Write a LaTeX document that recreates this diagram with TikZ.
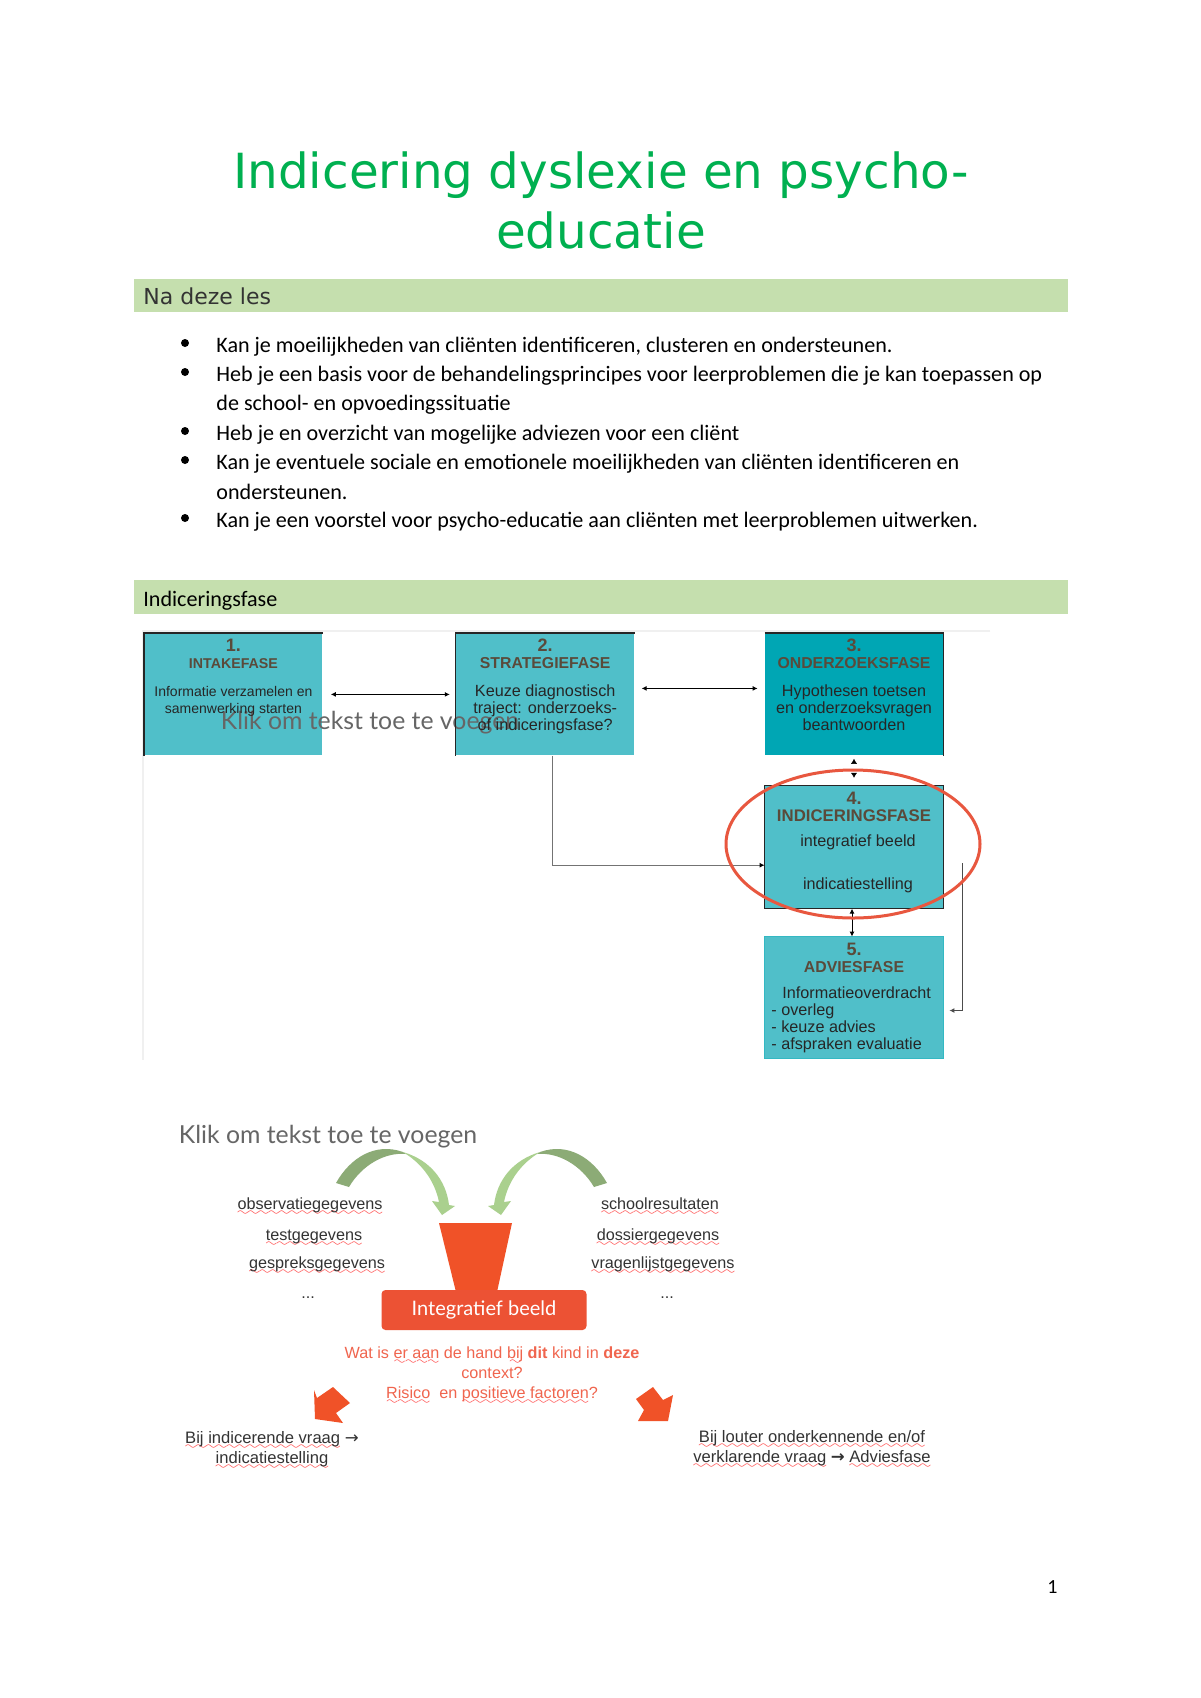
\documentclass[tikz,border=0pt]{standalone}
\usepackage{fontspec}
\usepackage{xcolor}
\usepackage{tikz}
\usetikzlibrary{arrows.meta, positioning}
\setmainfont{Carlito}
\newfontfamily\dejavu{DejaVu Sans}
\newfontfamily\arialfont{Liberation Sans}
\newfontfamily\latofont{Lato}
\definecolor{titlegreen}{HTML}{00B050}
\definecolor{bandgreen}{HTML}{C5DFAE}
\definecolor{tealbox}{HTML}{50BFC9}
\definecolor{tealdark}{HTML}{00A6B4}
\definecolor{phasebrown}{HTML}{5A4A3A}
\definecolor{circlered}{HTML}{E8573F}
\definecolor{funnelred}{HTML}{F05228}
\definecolor{beeldred}{HTML}{EC5234}
\definecolor{questred}{HTML}{F0654E}
\definecolor{curvedark}{HTML}{8CAB76}
\definecolor{curvelight}{HTML}{AAD08E}
\font\wavefont=lasy6
\newcommand\spell[1]{\leavevmode\setbox0\hbox{#1}\rlap{\lower3pt\hbox to\wd0{\color{red!75}\xleaders\hbox{\wavefont\char58}\hfil}}\box0\relax}
\newcommand\phasehead[3][7.9]{{\fontsize{9}{8.5}\selectfont\bfseries\textcolor{phasebrown}{#2}}\\{\bfseries\fontsize{#1}{8.5}\selectfont\textcolor{phasebrown}{#3}}}
\begin{document}
\begin{tikzpicture}[
                x=0.5pt, y=-0.5pt,
                node distance=15pt,
                band/.style={fill=bandgreen, draw=none},
                bullettext/.style={anchor=west, inner sep=0pt, font=\fontsize{11.05}{13}\selectfont},
                box/.style={fill=tealbox, draw=none, minimum width=89pt, minimum height=61pt, inner sep=0pt},
                boxline/.style={draw=black!85, line width=0.6pt},
                phasetext/.style={anchor=north, align=center, inner sep=0pt, text=black!85, font=\arialfont\fontsize{8.1}{8.5}\selectfont},
                arrow/.style={{Latex[length=2.5pt,width=2.5pt]}-{Latex[length=2.5pt,width=2.5pt]}, line width=0.5pt},
                oneway/.style={-{Latex[length=2.5pt,width=2.5pt]}, line width=0.5pt},
                grey/.style={-{Latex[length=2.5pt,width=2.5pt,black]}, draw=black!55, line width=0.5pt},
                smalltip/.style={{Latex[length=2.5pt,width=3pt,black]}-{Latex[length=2.5pt,width=3pt,black]}, draw=white, line width=0.2pt},
                word/.style={inner sep=0pt, align=center, text=black!80, font=\arialfont\fontsize{8.1}{10}\selectfont},
                klik/.style={inner sep=0pt, text=black!60, font=\latofont\fontsize{12.4}{14}\selectfont}
            ]
                \useasboundingbox (0,0) rectangle (1200,1698);
                \fill[white] (0,0) rectangle (1200,1698);

                % koptekst
                \node[align=center, text=titlegreen, font=\dejavu\fontsize{24.2}{30}\selectfont] (title) at (601,200) {Indicering dyslexie en psycho-\\educatie};
                \path[band] (134,279) rectangle (1068,312);
                \node[anchor=west, inner sep=0pt, font=\dejavu\fontsize{11}{12}\selectfont, text=black!80] (les) at (143,296) {Na deze les};

                % doelen
                \foreach \ypos in {345,374,433,462,520}
                    \fill (185,\ypos-2) circle (4);
                \node[bullettext] (goala) at (216,347) {Kan je moeilijkheden van cliënten identificeren, clusteren en ondersteunen.};
                \node[bullettext] (goalb) at (216,376) {Heb je een basis voor de behandelingsprincipes voor leerproblemen die je kan toepassen op};
                \node[bullettext] (goalc) at (216,405) {de school- en opvoedingssituatie};
                \node[bullettext] (goald) at (216,435) {Heb je en overzicht van mogelijke adviezen voor een cliënt};
                \node[bullettext] (goale) at (216,464) {Kan je eventuele sociale en emotionele moeilijkheden van cliënten identificeren en};
                \node[bullettext] (goalf) at (216,492) {ondersteunen.};
                \node[bullettext] (goalg) at (216,522) {Kan je een voorstel voor psycho-educatie aan cliënten met leerproblemen uitwerken.};

                \path[band] (134,580) rectangle (1068,614);
                \node[bullettext] (fase) at (143,601) {Indiceringsfase};

                % schema
                \draw[black!6, line width=0.6pt] (990,631) -| (143,1060);
                \node[box, anchor=north west] (intake) at (144,633) {};
                \node[box, right=66.5pt of intake] (strategie) {};
                \node[box, right=65pt of strategie, fill=tealdark] (onderzoek) {};
                \node[box, below=of onderzoek] (indicering) {};
                \node[box, below=14pt of indicering, minimum height=60.5pt] (advies) {};
                \node[klik] (klikboven) at (370,723) {Klik om tekst toe te voegen};

                \draw[boxline] (intake.south west) |- (intake.north east);
                \draw[boxline] (strategie.south west) |- (strategie.north east);
                \draw[boxline] (onderzoek.north west) -| (onderzoek.south east);
                \draw[boxline] (indicering.north west) rectangle (indicering.south east);
                \draw[tealdark!80, line width=0.6pt] (advies.north west) rectangle (advies.south east);

                \node[phasetext, below=3pt of intake.north, font=\arialfont\fontsize{7}{8.5}\selectfont] (intaketext) {\phasehead[7.1]{1.}{INTAKEFASE}\\[5.5pt]Informatie verzamelen en\\samenwerking starten};
                \node[phasetext, below=3pt of strategie.north] (strategietext) {\phasehead{2.}{STRATEGIEFASE}\\[5.5pt]Keuze diagnostisch\\traject: onderzoeks-\\of indiceringsfase?};
                \node[phasetext, below=3pt of onderzoek.north] (onderzoektext) {\phasehead{3.}{ONDERZOEKSFASE}\\[5.5pt]Hypothesen toetsen\\en onderzoeksvragen\\beantwoorden};
                \node[phasetext, below=3pt of indicering.north] (indiceringtext) {\phasehead[8.4]{4.}{INDICERINGSFASE}};
                \node[phasetext] (beeldtext) at (858,834) {integratief beeld};
                \node[phasetext] (steltext) at (858,877) {indicatiestelling};
                \node[phasetext, below=3pt of advies.north] (adviestext) {\phasehead{5.}{ADVIESFASE}};
                \node[phasetext, align=left, anchor=north west] (adviesbody) at (771,986) {\hspace*{5.5pt}Informatieoverdracht\\- overleg\\- keuze advies\\- afspraken evaluatie};

                \coordinate (sidetop) at (962,863);
                \coordinate (innertop) at (853,871);
                \coordinate (innerend) at (853,877);
                \coordinate (ringcentre) at (853,844);
                \draw[arrow, shorten <=4pt, shorten >=3pt] (intake) -- (strategie);
                \draw[arrow, shorten <=3.5pt, shorten >=3.5pt] ([yshift=3pt]strategie.east) -- ([yshift=3pt]onderzoek.west);
                \draw[smalltip, shorten <=1.5pt, shorten >=4pt] (onderzoek) -- (indicering);
                \draw[grey] ([xshift=3.5pt]strategie.south) |- ([yshift=-9pt]indicering.west);
                \draw[arrow] ([xshift=-1pt]indicering.south) -- ([xshift=-1pt]advies.north);
                \draw[oneway, draw=black!70, shorten >=3pt] (sidetop) |- ([yshift=-6.5pt]advies.east);
                \draw[oneway, draw=tealbox] (innertop) -- (innerend);
                \draw[circlered, line width=1.5pt] (ringcentre) circle [x radius=127, y radius=74];

                % integratief beeld
                \node[klik] (kliktext) at (328,1137) {Klik om tekst toe te voegen};
                \fill[curvedark] (336,1183) .. controls (350,1158) and (375,1142) .. (403,1152) -- (406,1154) .. controls (385,1152) and (362,1165) .. (349,1187) -- cycle;
                \fill[curvelight] (403,1152) .. controls (430,1160) and (446,1180) .. (449,1205) -- (455,1206) -- (442,1215) -- (432,1201) -- (439,1202) .. controls (435,1182) and (423,1165) .. (406,1154) -- cycle;
                \fill[curvedark] (607,1183) .. controls (593,1158) and (568,1142) .. (540,1152) -- (537,1154) .. controls (558,1152) and (581,1165) .. (594,1187) -- cycle;
                \fill[curvelight] (540,1152) .. controls (513,1160) and (497,1180) .. (494,1205) -- (488,1206) -- (501,1215) -- (511,1201) -- (504,1202) .. controls (508,1182) and (520,1165) .. (537,1154) -- cycle;
                \fill[funnelred] (439,1223) -- (512,1223) -- (497,1292) -- (456,1292) -- cycle;
                \node[fill=beeldred, rounded corners=2pt, minimum width=102.5pt, minimum height=20pt, inner sep=0pt, text=white, font=\latofont\fontsize{10}{12}\selectfont] (beeld) at (484,1310) {Integratief beeld};

                \node[word] (obs) at (310,1207) {\spell{observatiegegevens}};
                \node[word] (test) at (314,1238) {\spell{testgegevens}};
                \node[word] (gesprek) at (317,1266) {\spell{gespreksgegevens}};
                \node[word] (dotsl) at (308,1298) {...};
                \node[word] (school) at (660,1207) {\spell{schoolresultaten}};
                \node[word] (dossier) at (658,1238) {\spell{dossiergegevens}};
                \node[word] (vragen) at (663,1266) {\spell{vragenlijstgegevens}};
                \node[word] (dotsr) at (667,1298) {...};

                \node[word, text=questred, font=\arialfont\fontsize{8.1}{10}\selectfont] (vraag) at (492,1376) {Wat is \spell{er aan} de hand \spell{bij} \textbf{dit} kind in \textbf{deze}\\context?\\\spell{Risico}\ \ en \spell{positieve factoren}?};

                \fill[funnelred] (314,1390) -- (317,1398) -- (333,1387) -- (350,1403) -- (336,1413) -- (343,1423) -- (315,1419) -- cycle;
                \fill[funnelred] (673,1395) -- (668,1421) -- (638,1421) -- (644,1410) -- (636,1399) -- (653,1387) -- (663,1400) -- cycle;

                \node[word, font=\arialfont\fontsize{8.3}{10}\selectfont] (bijlinks) at (272,1450) {\spell{Bij indicerende vraag} {\dejavu →}\\\spell{indicatiestelling}};
                \node[word, font=\arialfont\fontsize{8.3}{10}\selectfont] (bijrechts) at (812,1449) {\spell{Bij louter onderkennende en/of}\\\spell{verklarende vraag} {\dejavu\bfseries →} \spell{Adviesfase}};

                \node[bullettext, font=\fontsize{10}{12}\selectfont] (pagenr) at (1047,1587) {1};
            \end{tikzpicture}
\end{document}
